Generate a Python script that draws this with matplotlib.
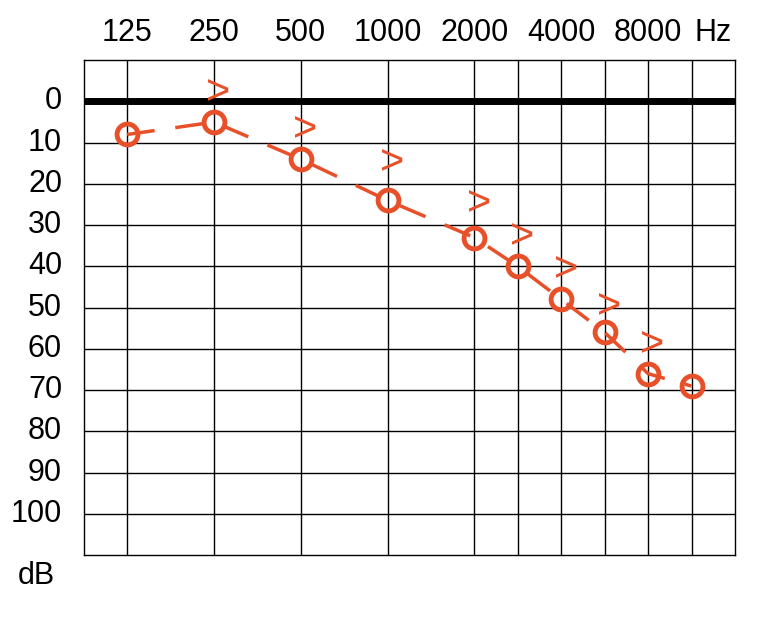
import matplotlib
matplotlib.use("Agg")
import matplotlib.pyplot as plt
plt.rcParams['font.family'] = ['Liberation Sans', 'DejaVu Sans']

freq_labels = ["125", "250", "500", "1000", "2000", "4000", "8000"]
freq_pos = [0, 1, 2, 3, 4, 5, 6]
o_x = [0, 1, 2, 3, 4, 4.5, 5, 5.5, 6, 6.5]
o_db = [8, 5, 14, 24, 33, 40, 48, 56, 66, 69]
b_x = [1, 2, 3, 4, 4.5, 5, 5.5, 6]
b_db = [-2, 7, 15, 25, 33, 41, 50, 59]
db_ticks = [0, 10, 20, 30, 40, 50, 60, 70, 80, 90, 100]
red = "#e8502a"

fig = plt.figure(figsize=(7.68, 6.21), dpi=100)
ax = fig.add_axes([0.109, 0.106, 0.848, 0.797])
ax.set_xlim(-0.5, 7)
ax.set_ylim(110, -10)
for x in [0, 1, 2, 3, 4, 4.5, 5, 5.5, 6, 6.5]:
    ax.axvline(x, color="black", lw=1)
for y in range(0, 110, 10):
    ax.axhline(y, color="black", lw=1)
ax.axhline(0, color="black", lw=5)
for s in ax.spines.values():
    s.set_linewidth(1)
ax.set_xticks([]); ax.set_yticks([])

ax.plot(o_x, o_db, color=red, lw=2.5, dashes=(8, 6), zorder=3)
ax.plot(o_x, o_db, "o", ms=15, mfc="none", mec=red, mew=3.5, zorder=4)
for x, y in zip(b_x, b_db):
    ax.text(x + 0.05, y, ">", color=red, fontsize=30, ha="center", va="center",
            zorder=5)

for x, lab in zip(freq_pos, freq_labels):
    ax.text(x, -13, lab, ha="center", va="bottom", fontsize=22, clip_on=False)
ax.text(6.75, -13, "Hz", ha="center", va="bottom", fontsize=22, clip_on=False)
for y in db_ticks:
    ax.text(-0.75, y, str(y), ha="right", va="center", fontsize=22, clip_on=False)
ax.text(-1.05, 115, "dB", ha="center", va="center", fontsize=22, clip_on=False)
fig.savefig("out.png", dpi=100)
